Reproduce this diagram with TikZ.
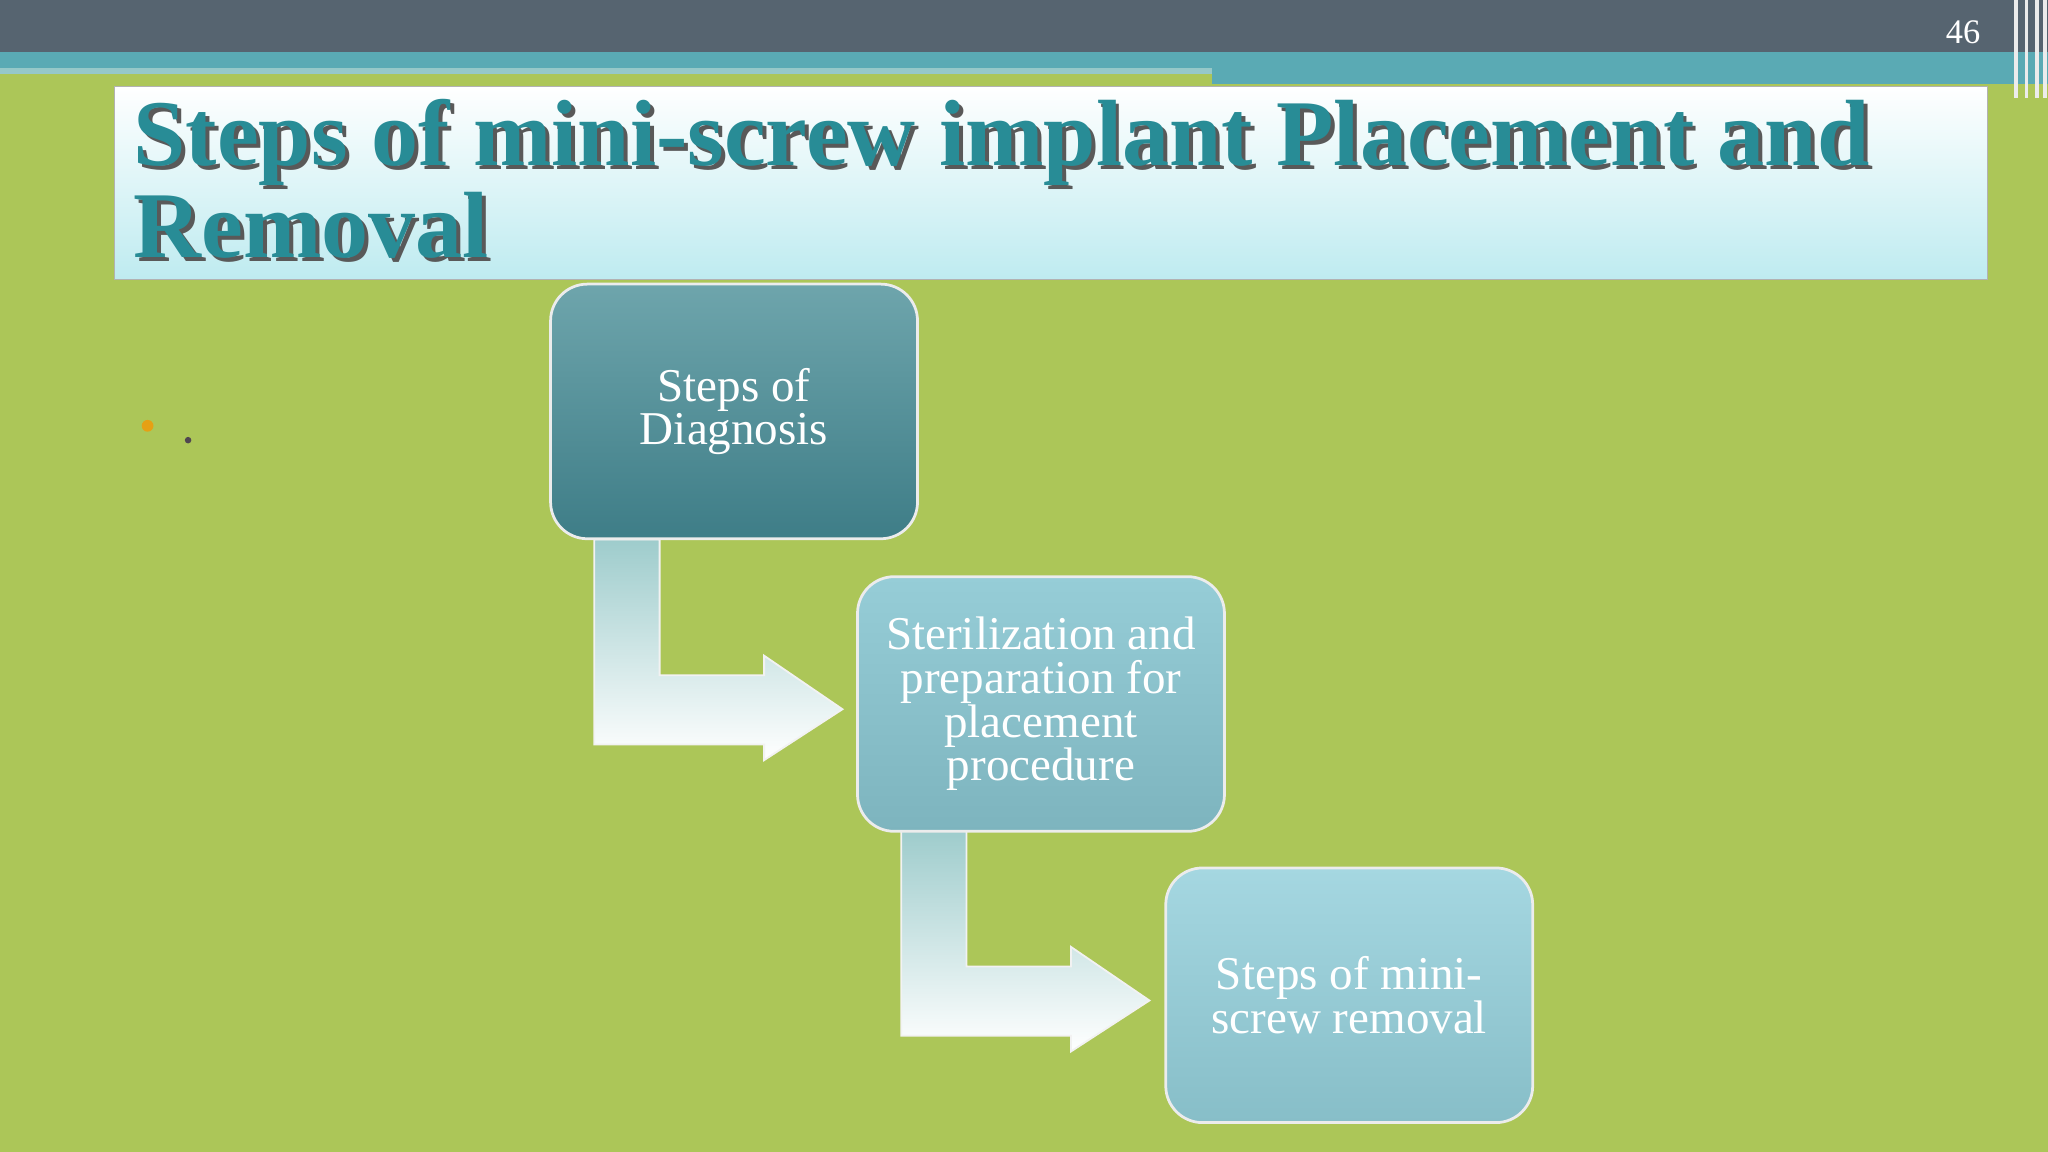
\documentclass[tikz,border=0pt]{standalone}
\usepackage{fontspec}
\setmainfont{Liberation Serif}
\begin{document}
\begin{tikzpicture}[x=0.02cm,y=-0.02cm,
  box/.style={rounded corners=16pt,draw=white!85!gray,line width=1.2pt,text=white,align=center,font=\fontsize{20.5}{19}\selectfont,inner sep=0pt},
  arr/.style={top color=white!70!cyan!60!gray,bottom color=white,draw=white!90!gray,line width=0.8pt}]
\useasboundingbox (0,0) rectangle (1568,882);
\fill[color={rgb,255:red,172;green,198;blue,88}] (0,0) rectangle (1568,882);
\fill[color={rgb,255:red,86;green,100;blue,112}] (0,0) rectangle (1568,40);
\fill[color={rgb,255:red,90;green,170;blue,180}] (0,40) rectangle (1568,52);
\fill[color={rgb,255:red,90;green,170;blue,180}] (928,52) rectangle (1568,64);
\fill[color={rgb,255:red,150;green,200;blue,200}] (0,52) rectangle (928,57);
\foreach \x in {1542,1550,1558,1564}{\fill[white!85!gray] (\x,0) rectangle (\x+3,75);}
\node[text=white,font=\fontsize{15}{17}\selectfont] (pg) at (1503,25) {46};
\shade[top color=white,bottom color={rgb,255:red,190;green,235;blue,240},draw=gray!60] (88,66) rectangle (1522,214);
\node[anchor=north west,align=left,font=\fontsize{41}{40}\bfseries\selectfont,text=gray!70!black] (titlesh) at (99,73)
 {Steps of mini-screw implant Placement and\\Removal};
\node[anchor=north west,align=left,font=\fontsize{41}{40}\bfseries\selectfont,text={rgb,255:red,40;green,140;blue,150}] (title) at (96,70)
 {Steps of mini-screw implant Placement and\\Removal};
\fill[color={rgb,255:red,230;green,160;blue,20}] (113,326) circle (4.5);
\fill[color={rgb,255:red,80;green,70;blue,80}] (144,337) circle (2.5);
\shade[arr] (455,413) -- (505,413) -- (505,517) -- (585,517) -- (585,502) -- (645,543) -- (585,582) -- (585,570) -- (455,570) -- cycle;
\shade[arr] (690,636) -- (740,636) -- (740,740) -- (820,740) -- (820,725) -- (880,766) -- (820,805) -- (820,793) -- (690,793) -- cycle;
\node[box,minimum width=5.62cm,minimum height=3.9cm,top color={rgb,255:red,110;green,165;blue,172},bottom color={rgb,255:red,62;green,125;blue,135}] (b1) at (562,315) {Steps of\\Diagnosis};
\node[box,minimum width=5.62cm,minimum height=3.9cm,top color={rgb,255:red,150;green,205;blue,215},bottom color={rgb,255:red,125;green,180;blue,190}] (b2) at (797,539) {Sterilization and\\preparation for\\placement\\procedure};
\node[box,minimum width=5.62cm,minimum height=3.9cm,top color={rgb,255:red,165;green,215;blue,225},bottom color={rgb,255:red,135;green,190;blue,200}] (b3) at (1033,762) {Steps of mini-\\screw removal};
\end{tikzpicture}
\end{document}
